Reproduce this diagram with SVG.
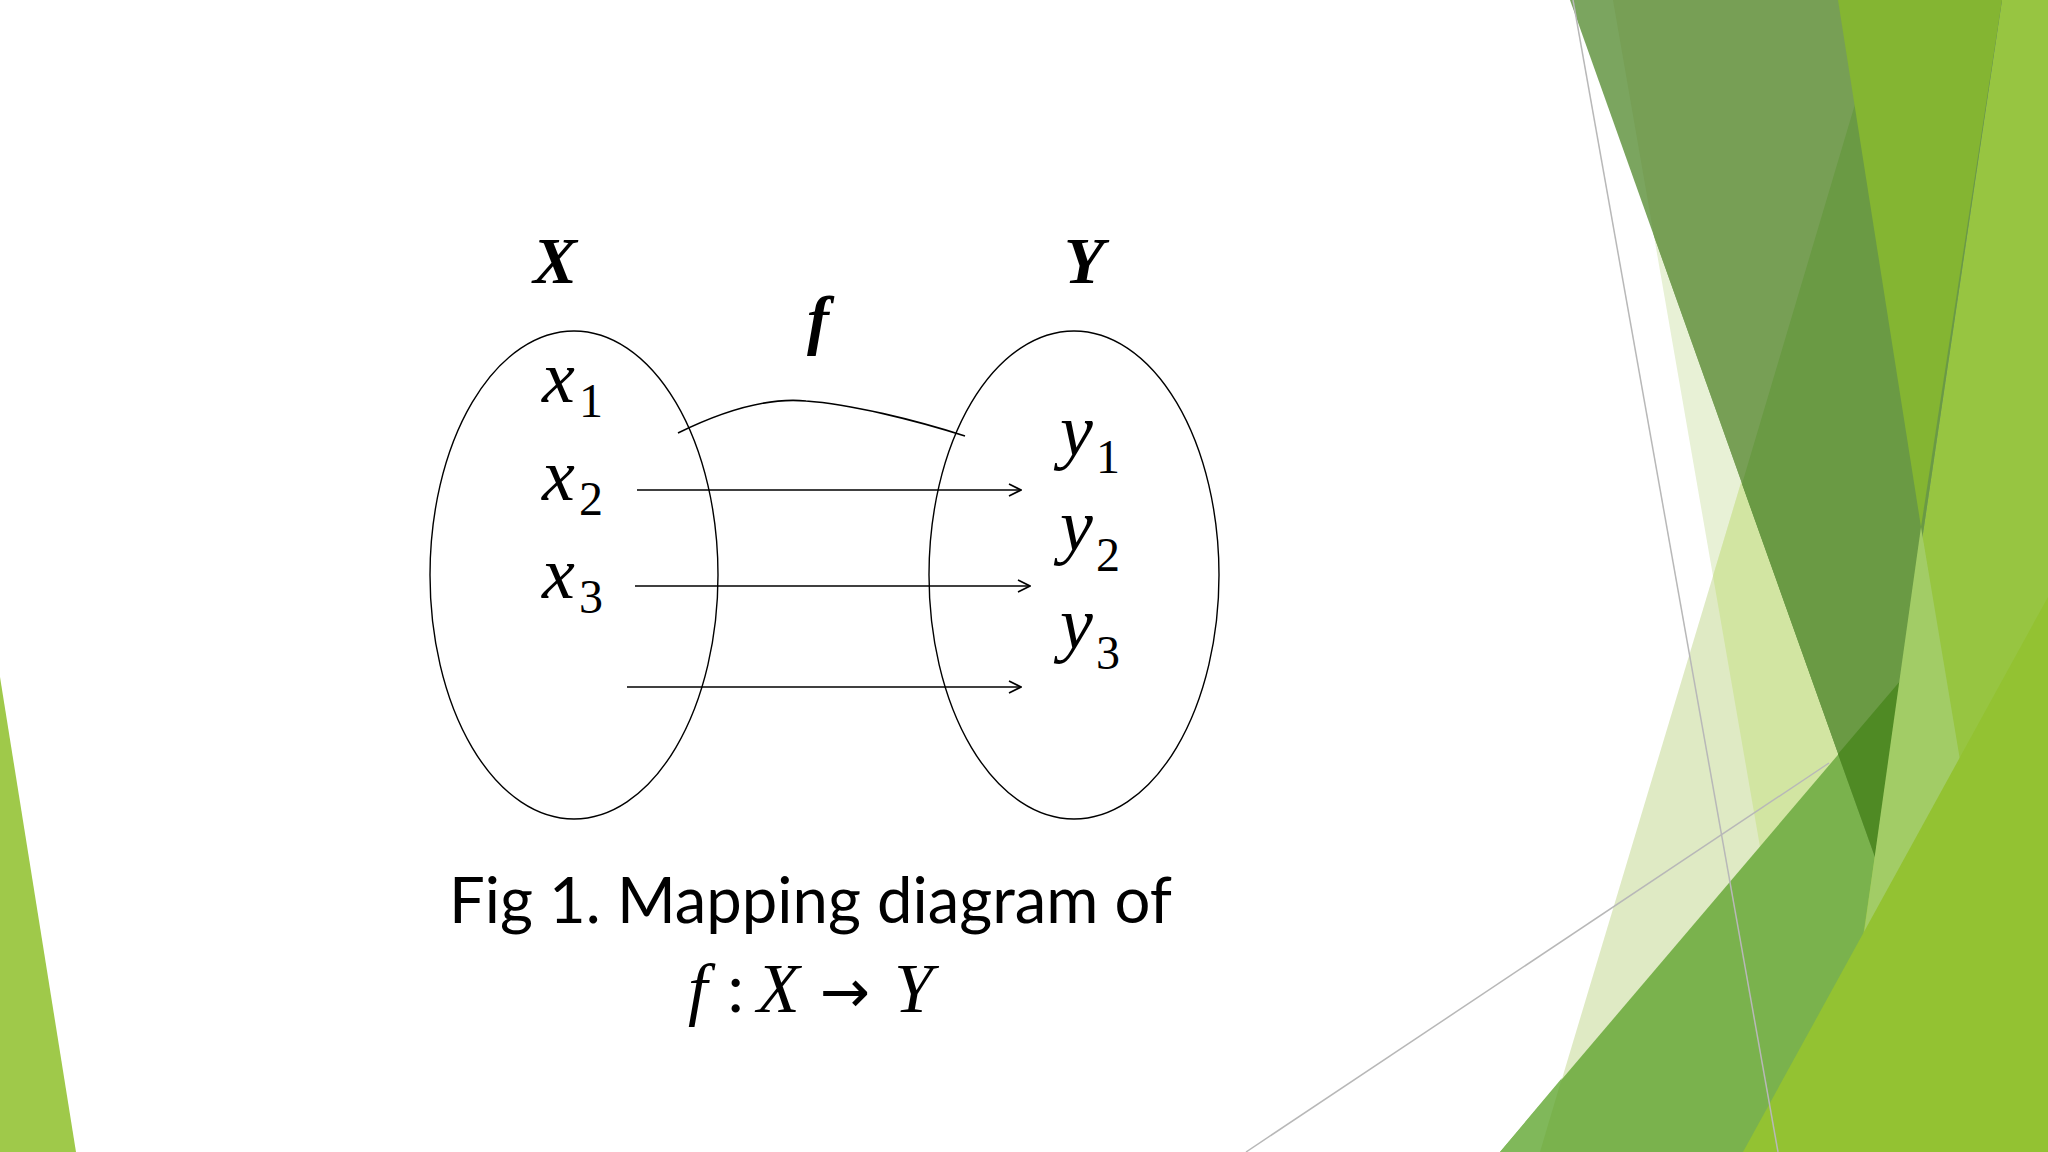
<svg xmlns="http://www.w3.org/2000/svg" width="2048" height="1152" viewBox="0 0 2048 1152">
<defs>
<style>
.math{font-family:"Liberation Serif","DejaVu Serif",serif;font-style:italic;fill:#000}
.sub{font-family:"Liberation Serif","DejaVu Serif",serif;font-style:normal;font-size:48px;fill:#000}
.hdr{font-family:"Liberation Serif","DejaVu Serif",serif;font-style:italic;font-weight:bold;font-size:66px;fill:#000}
.set{fill:none;stroke:#000;stroke-width:1.4}
.conn{fill:none;stroke:#000;stroke-width:1.6}
.cap{font-family:Lato,"Open Sans",sans-serif;font-size:64px;fill:#000}
.gl{stroke:#b8b8b8;stroke-width:1.5;fill:none}
</style>
<marker id="ah" viewBox="0 0 14 14" refX="13" refY="7" markerWidth="14" markerHeight="14" markerUnits="userSpaceOnUse" orient="auto">
<path d="M1,1 L13,7 L1,13" fill="none" stroke="#000" stroke-width="1.6"/>
</marker>
</defs>
<rect width="2048" height="1152" fill="#ffffff"/>
<g id="background">
<polygon points="0,677 76,1152 0,1152" fill="#9fc94a"/>
<polygon points="1613,0 2048,0 2048,1152 1813,1152" fill="#e8f1d6"/>
<polygon points="1886,0 2048,0 2048,1152 1540,1152" fill="#dfeac4"/>
<polygon points="1886,0 2048,0 2048,1152 1813,1152 1713,576" fill="#d2e5a2"/>
<polygon points="1500,1152 2048,508 2048,1152" fill="#7ab24d"/>
<polygon points="1500,1152 1562,1078 1540,1152" fill="#80b85a"/>
<polygon points="2002,0 2048,0 2048,1152 1831,1152" fill="#97c541"/>
<polygon points="1570,0 2002,0 1875,857" fill="#7ba55f"/>
<polygon points="1613,0 2002,0 1875,857 1654,236" fill="#779f55"/>
<polygon points="1886,0 2002,0 1875,857 1742,484" fill="#6a9a44"/>
<polygon points="1838,754 1901,680 1875,857" fill="#4f8a24"/>
<polygon points="1838,0 2002,0 1921,527" fill="#84b532"/>
<polygon points="1921,527 1960,760 1864,933" fill="#a2cc66"/>
<polygon points="1743,1152 2048,597 2048,1152" fill="#93c232"/>
<line class="gl" x1="1573" y1="0" x2="1778" y2="1152"/>
<line class="gl" x1="1246" y1="1152" x2="1829" y2="763"/>
</g>
<g id="set-X">
<ellipse class="set" cx="574" cy="575" rx="144" ry="244"/>
<text class="hdr" x="533" y="283">X</text>
<text class="math" x="542" y="402" font-size="74">x<tspan class="sub" x="579" y="417">1</tspan></text>
<text class="math" x="542" y="500" font-size="74">x<tspan class="sub" x="579" y="515">2</tspan></text>
<text class="math" x="542" y="598" font-size="74">x<tspan class="sub" x="579" y="613">3</tspan></text>
</g>
<g id="set-Y">
<ellipse class="set" cx="1074" cy="575" rx="145" ry="244"/>
<text class="hdr" x="1064" y="283">Y</text>
<text class="math" x="1060" y="455" font-size="74">y<tspan class="sub" x="1096" y="473">1</tspan></text>
<text class="math" x="1060" y="550" font-size="74">y<tspan class="sub" x="1096" y="571">2</tspan></text>
<text class="math" x="1060" y="648" font-size="74">y<tspan class="sub" x="1096" y="669">3</tspan></text>
</g>
<g id="label-f">
<text class="hdr" x="807" y="342">f</text>
</g>
<g id="connectors">
<path class="conn" d="M678,433 C735,405 775,398 806,401 C850,404 915,420 965,436"/>
<line class="conn" x1="637" y1="490" x2="1021" y2="490" marker-end="url(#ah)"/>
<line class="conn" x1="635" y1="586" x2="1030" y2="586" marker-end="url(#ah)"/>
<line class="conn" x1="627" y1="687" x2="1021" y2="687" marker-end="url(#ah)"/>
</g>
<g id="caption">
<text class="cap" x="449" y="923" textLength="723" lengthAdjust="spacingAndGlyphs">Fig 1. Mapping diagram of</text>
<text class="math" y="1012" font-size="70"><tspan x="688">f</tspan><tspan x="726" font-style="normal">:</tspan><tspan x="757">X</tspan><tspan x="820" font-style="normal" font-family="DejaVu Sans, sans-serif" font-size="60">→</tspan><tspan x="894">Y</tspan></text>
</g>
</svg>
